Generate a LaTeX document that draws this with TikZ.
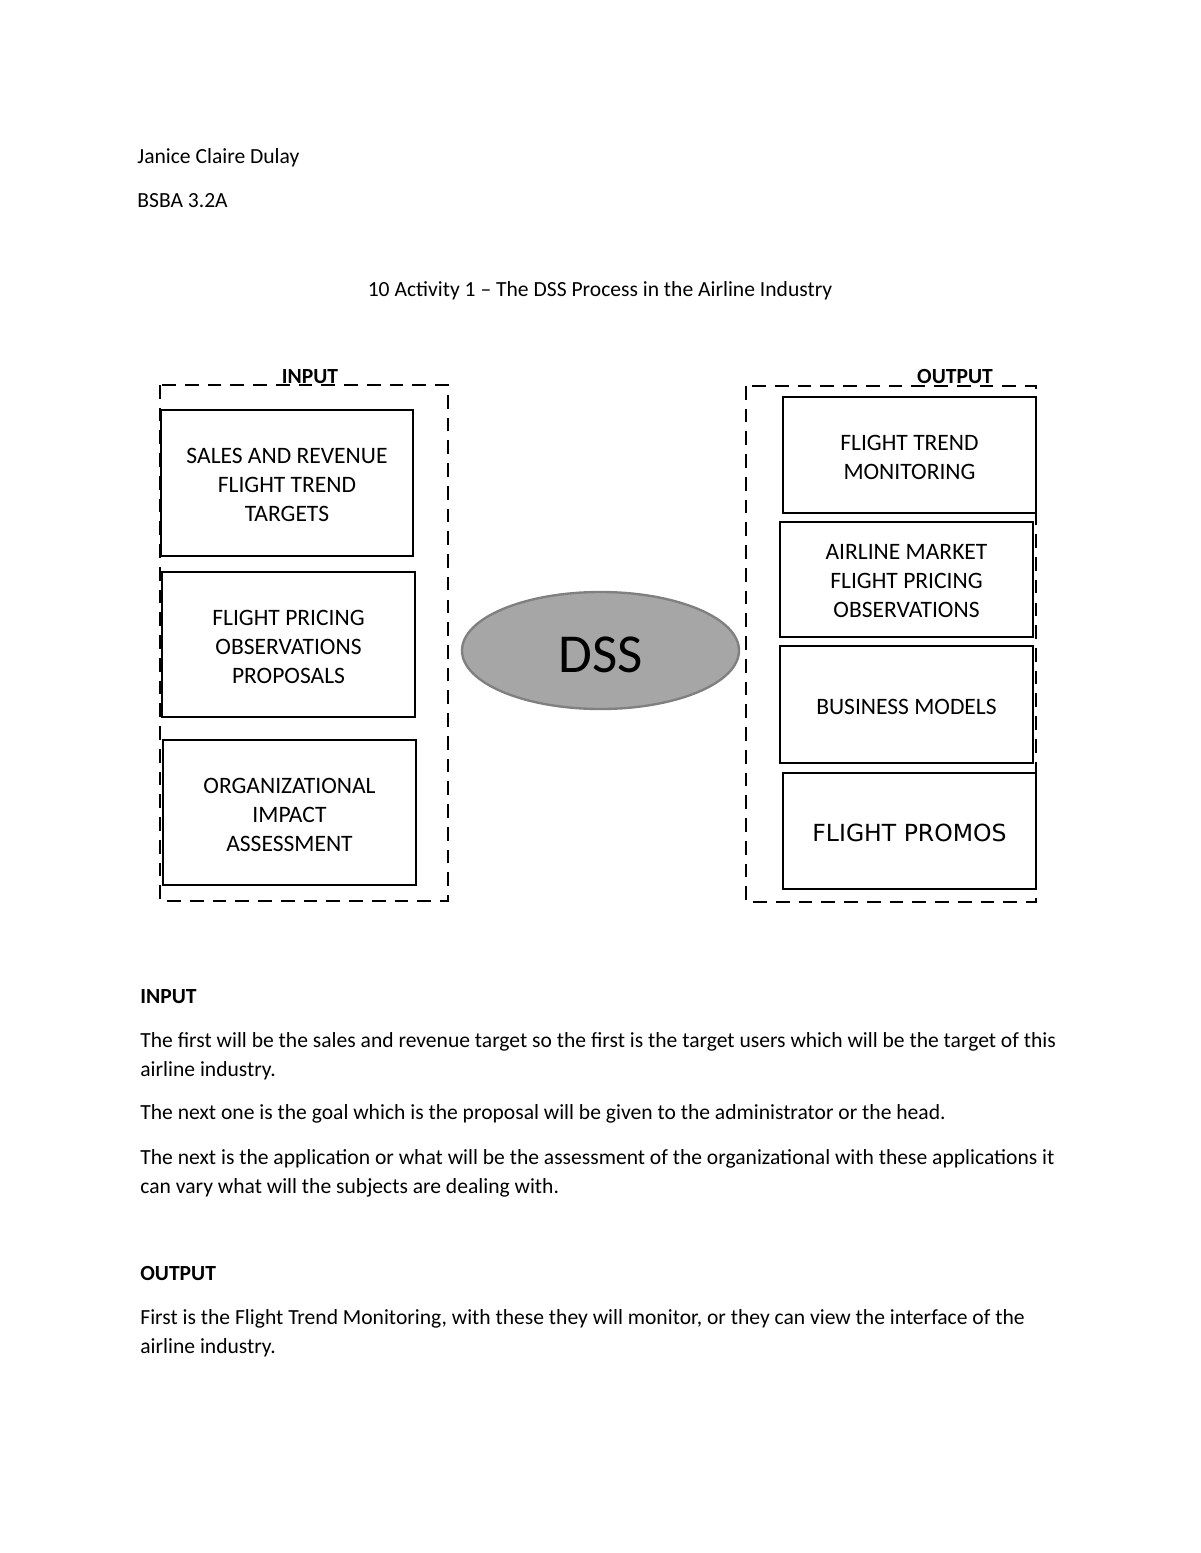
\documentclass[tikz,border=0pt]{standalone}
\usepackage{fontspec}
\setmainfont{Carlito}
\newfontfamily\dejavu{DejaVu Sans}
\usetikzlibrary{shapes.geometric}
\definecolor{dssfill}{RGB}{166,166,166}
\definecolor{dssline}{RGB}{128,128,128}
\tikzset{
  bodytxt/.style={anchor=base west, inner sep=0pt, font=\fontsize{11}{13.4}\selectfont},
  frame/.style={draw=black, line width=1.5pt, dash pattern=on 7pt off 4.6pt},
  itembox/.style={draw=black, line width=1.5pt, inner sep=0pt},
  boxtext/.style={align=center, inner sep=0pt, font=\fontsize{12}{14.8}\selectfont},
  grouplabel/.style={anchor=base, inner sep=0pt, font=\fontsize{11}{13.4}\selectfont\bfseries},
}
\begin{document}
\begin{tikzpicture}[x=0.51pt, y=-0.51pt]
\useasboundingbox (0,0) rectangle (1200,1553);
\fill[white] (0,0) rectangle (1200,1553);

% header texts
\node[bodytxt] (name) at (137,164) {Janice Claire Dulay};
\node[bodytxt] (cls) at (137,208) {BSBA 3.2A};
\node[anchor=base, inner sep=0pt, font=\fontsize{11}{13.4}\selectfont] (title) at (600,297)
  {10 Activity 1 -- The DSS Process in the Airline Industry};

% input frame
\draw[frame] (160,385) rectangle (448,901);
\node[grouplabel] (inlbl) at (310,383) {INPUT};

% output frame
\draw[frame] (746,386) rectangle (1036,902);
\node[grouplabel] (outlbl) at (955,383) {OUTPUT};

% input boxes
\node[itembox, minimum width=252*0.51pt, minimum height=146*0.51pt] (in1) at (287,483) {};
\node[boxtext] (in1t) at (287,485) {SALES AND REVENUE\\FLIGHT TREND\\TARGETS};
\node[itembox, minimum width=253*0.51pt, minimum height=145*0.51pt] (in2) at (288.5,644.5) {};
\node[boxtext] (in2t) at (288.5,646.5) {FLIGHT PRICING\\OBSERVATIONS\\PROPOSALS};
\node[itembox, minimum width=253*0.51pt, minimum height=145*0.51pt] (in3) at (289.5,812.5) {};
\node[boxtext] (in3t) at (289.5,814.5) {ORGANIZATIONAL\\IMPACT\\ASSESSMENT};

% DSS ellipse
\node[ellipse, draw=dssline, fill=dssfill, line width=1.2pt,
  minimum width=277*0.51pt, minimum height=117*0.51pt, inner sep=0pt] (dss) at (600.5,650.5) {};
\node[inner sep=0pt, font=\fontsize{28}{32}\selectfont] (dsst) at (600.5,655) {DSS};

% output boxes
\node[itembox, minimum width=253*0.51pt, minimum height=116*0.51pt] (out1) at (909.5,455) {};
\node[boxtext] (out1t) at (909.5,457) {FLIGHT TREND\\MONITORING};
\node[itembox, minimum width=253*0.51pt, minimum height=115*0.51pt] (out2) at (906.5,579.5) {};
\node[boxtext] (out2t) at (906.5,581.5) {AIRLINE MARKET\\FLIGHT PRICING\\OBSERVATIONS};
\node[itembox, minimum width=253*0.51pt, minimum height=117*0.51pt] (out3) at (906.5,704.5) {};
\node[boxtext] (out3t) at (906.5,706.5) {BUSINESS MODELS};
\node[itembox, minimum width=253*0.51pt, minimum height=116*0.51pt] (out4) at (909.5,831) {};
\node[boxtext, font=\dejavu\fontsize{12}{14.8}\selectfont] (out4t) at (909.5,833) {FLIGHT PROMOS};

% body text
\node[bodytxt, font=\fontsize{11}{13.4}\selectfont\bfseries] (h1) at (140,1003) {INPUT};
\node[bodytxt] (l1) at (140,1047) {The first will be the sales and revenue target so the first is the target users which will be the target of this};
\node[bodytxt] (l2) at (140,1076) {airline industry.};
\node[bodytxt] (l3) at (140,1119) {The next one is the goal which is the proposal will be given to the administrator or the head.};
\node[bodytxt] (l4) at (140,1164) {The next is the application or what will be the assessment of the organizational with these applications it};
\node[bodytxt] (l5) at (140,1193) {can vary what will the subjects are dealing with.};
\node[bodytxt, font=\fontsize{11}{13.4}\selectfont\bfseries] (h2) at (140,1280) {OUTPUT};
\node[bodytxt] (l6) at (140,1324) {First is the Flight Trend Monitoring, with these they will monitor, or they can view the interface of the};
\node[bodytxt] (l7) at (140,1353) {airline industry.};
\end{tikzpicture}
\end{document}
